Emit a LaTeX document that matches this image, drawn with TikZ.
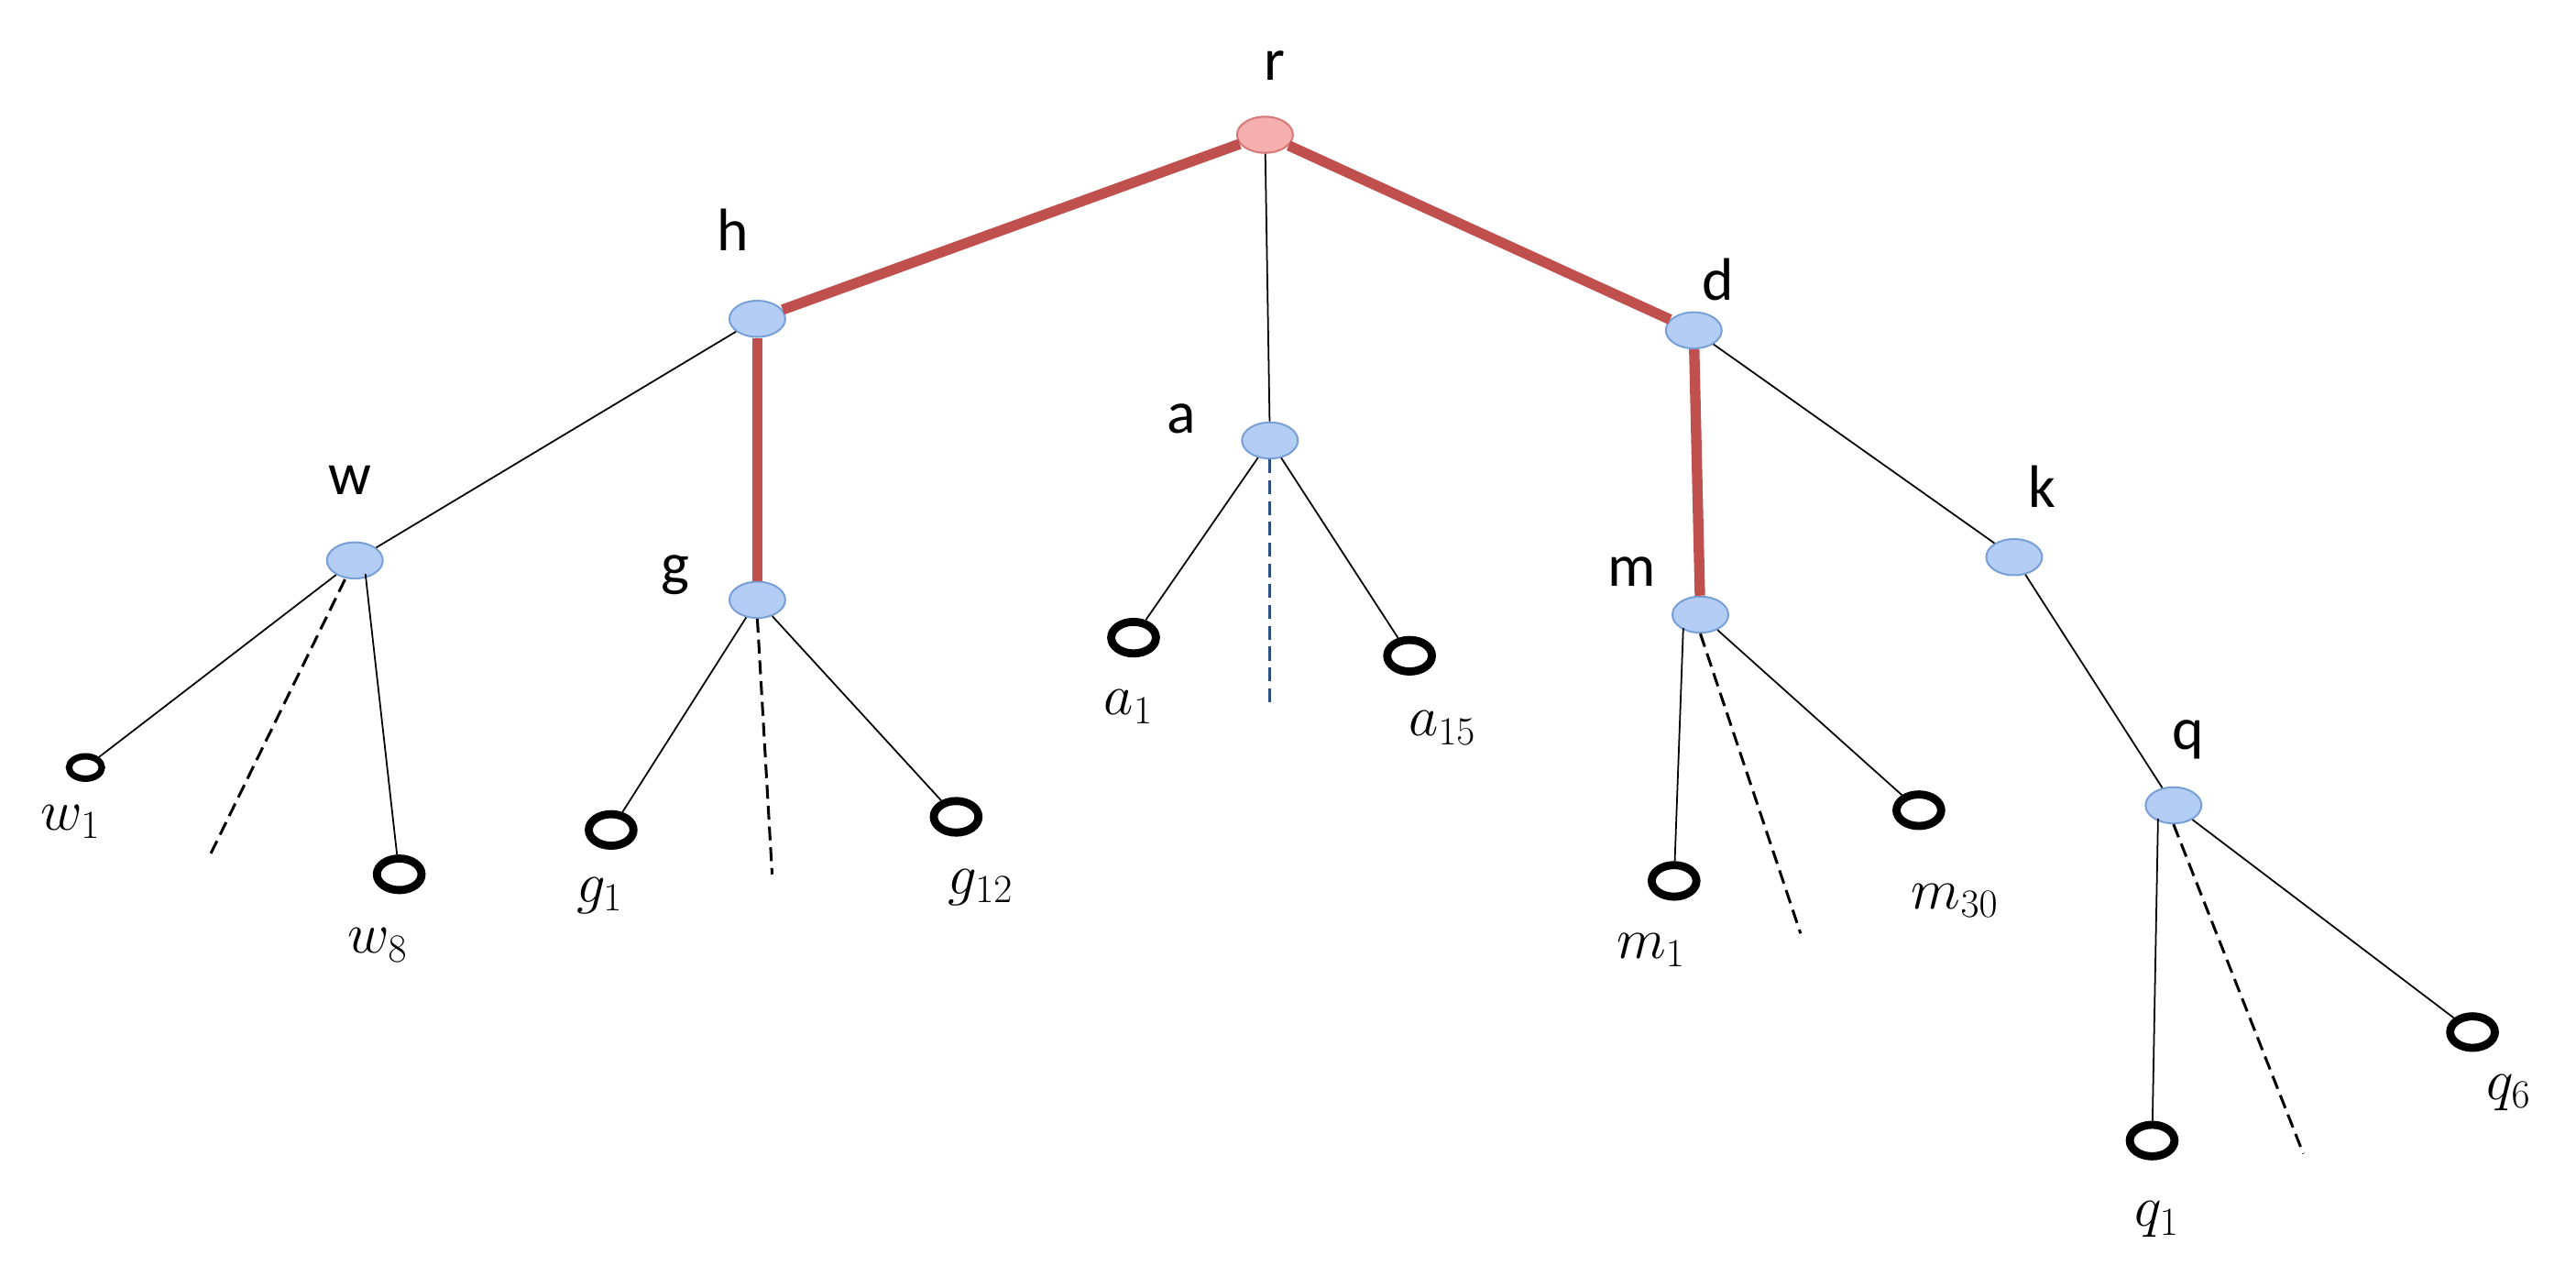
\documentclass[tikz,border=0pt]{standalone}
\usepackage{fontspec}
\setsansfont{Carlito}
\usetikzlibrary{shapes.geometric}
\definecolor{redl}{RGB}{192,80,77}
\definecolor{bfill}{RGB}{180,205,245}
\definecolor{bdraw}{RGB}{120,160,215}
\definecolor{rfill}{RGB}{245,175,175}
\definecolor{rdraw}{RGB}{215,120,120}
\definecolor{adash}{RGB}{40,80,130}
\begin{document}
\begin{tikzpicture}[x=0.025cm,y=-0.025cm,
  inner/.style={ellipse,draw=bdraw,fill=bfill,line width=0.8pt,minimum width=0.85cm,minimum height=0.55cm,inner sep=0pt},
  rootn/.style={inner,draw=rdraw,fill=rfill},
  leaf/.style={ellipse,draw=black,fill=white,line width=3.5pt,minimum width=0.68cm,minimum height=0.48cm,inner sep=0pt},
  lab/.style={font=\sffamily\fontsize{26}{30}\selectfont,inner sep=0pt},
  mlab/.style={font=\fontsize{25}{30}\selectfont,inner sep=0pt},
  thin/.style={line width=0.7pt},
  dashln/.style={line width=1.2pt,dash pattern=on 6pt off 3pt},
  redp/.style={redl,line width=4.5pt}]
\useasboundingbox (0,0) rectangle (1568,777);
\node[rootn] (r) at (770,82) {};
\node[inner] (h) at (461,194) {};
\node[inner] (d) at (1031,201) {};
\node[inner] (a) at (773,268) {};
\node[inner] (w) at (216,341) {};
\node[inner] (g) at (461,365) {};
\node[inner] (k) at (1226,339) {};
\node[inner] (m) at (1035,374) {};
\node[inner] (q) at (1323,490) {};
\node[lab] (lr) at (776,40) {r};
\node[lab] (lh) at (446,140) {h};
\node[lab] (ld) at (1046,170) {d};
\node[lab] (la) at (719,255) {a};
\node[lab] (lw) at (213,292) {w};
\node[lab] (lg) at (411,350) {g};
\node[lab] (lk) at (1243,296) {k};
\node[lab] (lm) at (993,348) {m};
\node[lab] (lq) at (1332,450) {q};
\node[leaf,minimum width=0.5cm,minimum height=0.34cm,line width=2.8pt] (w1) at (52,467) {};
\node[leaf] (w8) at (243,532) {};
\node[leaf] (g1) at (372,505) {};
\node[leaf] (g12) at (582,497) {};
\node[leaf] (a1) at (690,388) {};
\node[leaf] (a15) at (858,399) {};
\node[leaf] (m1) at (1019,536) {};
\node[leaf] (m30) at (1168,493) {};
\node[leaf] (q1) at (1310,694) {};
\node[leaf] (q6) at (1505,628) {};
\node[mlab] (lw1) at (43,500) {$w_1$};
\node[mlab] (lw8) at (230,575) {$w_8$};
\node[mlab] (lg1) at (365,545) {$g_1$};
\node[mlab] (lg12) at (597,540) {$g_{12}$};
\node[mlab] (la1) at (687,430) {$a_1$};
\node[mlab] (la15) at (878,443) {$a_{15}$};
\node[mlab] (lm1) at (1005,578) {$m_1$};
\node[mlab] (lm30) at (1190,548) {$m_{30}$};
\node[mlab] (lq1) at (1313,742) {$q_1$};
\node[mlab] (lq6) at (1527,665) {$q_6$};
\coordinate (wd) at (128,520);
\coordinate (gd) at (470,532);
\coordinate (ad) at (773,430);
\coordinate (md) at (1096,568);
\coordinate (qd) at (1402,702);
\draw[redp] (r) -- (h);
\draw[redp] (r) -- (d);
\draw[redp] (h) -- (g);
\draw[redp] (d) -- (m);
\draw[thin] (r) -- (a);
\draw[thin] (h) -- (w);
\draw[thin] (d) -- (k);
\draw[thin] (k) -- (q);
\draw[thin] (w) -- (w1);
\draw[thin] (w.south east) ++(-6,0) -- (w8);
\draw[dashln] (w.south) ++(-6,0) -- (wd);
\draw[thin] (g) -- (g1);
\draw[thin] (g) -- (g12);
\draw[dashln] (g.south) -- (gd);
\draw[thin] (a) -- (a1);
\draw[thin] (a) -- (a15);
\draw[dashln,adash] (a.south) -- (ad);
\draw[thin] (m.south west) ++(2,0) -- (m1);
\draw[thin] (m) -- (m30);
\draw[dashln] (m.south) -- (md);
\draw[thin] (q.south west) ++(3,0) -- (q1);
\draw[thin] (q) -- (q6);
\draw[dashln] (q.south) -- (qd);
\end{tikzpicture}
\end{document}
